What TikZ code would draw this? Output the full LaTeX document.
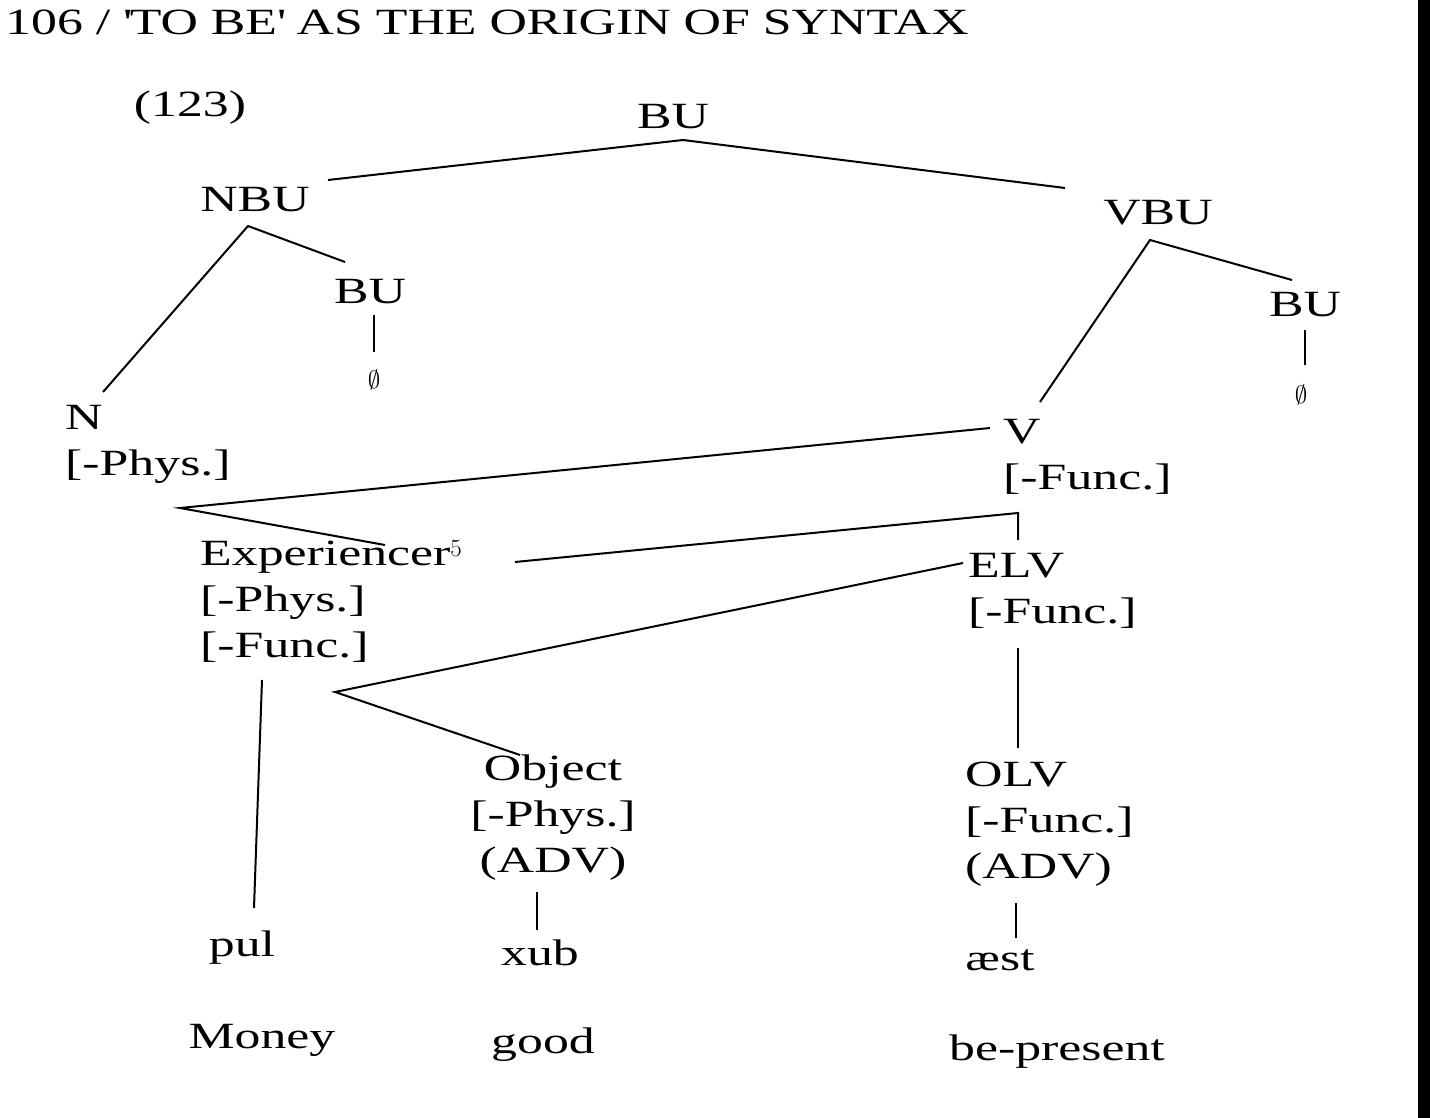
\documentclass[tikz,border=0pt]{standalone}
\usepackage{amssymb}
\usepackage{fontspec}
\setmainfont{Liberation Serif}[FakeStretch=1.4]
\begin{document}
\begin{tikzpicture}[x=1pt,y=-1pt,
  lbl/.style={inner sep=0pt,font=\fontsize{37}{46}\selectfont,align=left},
  lblc/.style={inner sep=0pt,font=\fontsize{37}{46}\selectfont,align=center},
  ln/.style={line width=2pt}]
\useasboundingbox (0,0) rectangle (1430,1118);
\fill (1418,0) rectangle (1430,1118);
\node[lbl,anchor=west] (hdr) at (5,22) {106 / \textquotesingle TO BE\textquotesingle\ AS THE ORIGIN OF SYNTAX};
\node[lbl] (num) at (190,108) {(123)};
\node[lbl] (bu) at (673,117) {BU};
\node[lbl] (nbu) at (255,200) {NBU};
\node[lbl] (vbu) at (1158,213) {VBU};
\node[lbl] (bul) at (370,292) {BU};
\node[lbl] (el) at (374,380) {$\emptyset$};
\node[lbl] (bur) at (1305,305) {BU};
\node[lbl] (er) at (1301,395) {$\emptyset$};
\node[lbl,anchor=north west] (n) at (65,405) {N\\{[-Phys.]}};
\node[lbl,anchor=north west] (v) at (1003,419) {V\\{[-Func.]}};
\node[lbl,anchor=north west] (exp) at (200,540) {Experiencer$^5$\\{[-Phys.]}\\{[-Func.]}};
\node[lbl,anchor=north west] (elv) at (968,553) {ELV\\{[-Func.]}};
\node[lblc,anchor=north] (obj) at (553,755) {Object\\{[-Phys.]}\\(ADV)};
\node[lbl,anchor=north west] (olv) at (965,762) {OLV\\{[-Func.]}\\(ADV)};
\node[lbl] (pul) at (242,948) {pul};
\node[lbl] (xub) at (540,953) {xub};
\node[lbl] (aest) at (1000,960) {\ae st};
\node[lbl] (money) at (262,1040) {Money};
\node[lbl] (good) at (543,1045) {good};
\node[lbl] (bep) at (1057,1052) {be-present};
% connectors
\coordinate (bua) at (683,140);
\draw[ln] (328,180) -- (bua) -- (1065,188);
\coordinate (nbua) at (248,226);
\draw[ln] (103,392) -- (nbua) -- (345,262);
\draw[ln] (374,315) -- (374,352);
\coordinate (vbua) at (1150,240);
\draw[ln] (1040,402) -- (vbua) -- (1292,280);
\draw[ln] (1305,330) -- (1305,365);
\coordinate (na) at (180,508);
\draw[ln] (990,428) -- (na) -- (385,545);
\coordinate (va) at (1018,513);
\draw[ln] (515,562) -- (va) -- (1018,540);
\coordinate (ea) at (335,692);
\draw[ln] (963,563) -- (ea) -- (520,755);
\draw[ln] (262,680) -- (254,908);
\draw[ln] (1018,648) -- (1018,748);
\draw[ln] (537,892) -- (537,930);
\draw[ln] (1016,903) -- (1016,938);
\end{tikzpicture}
\end{document}
